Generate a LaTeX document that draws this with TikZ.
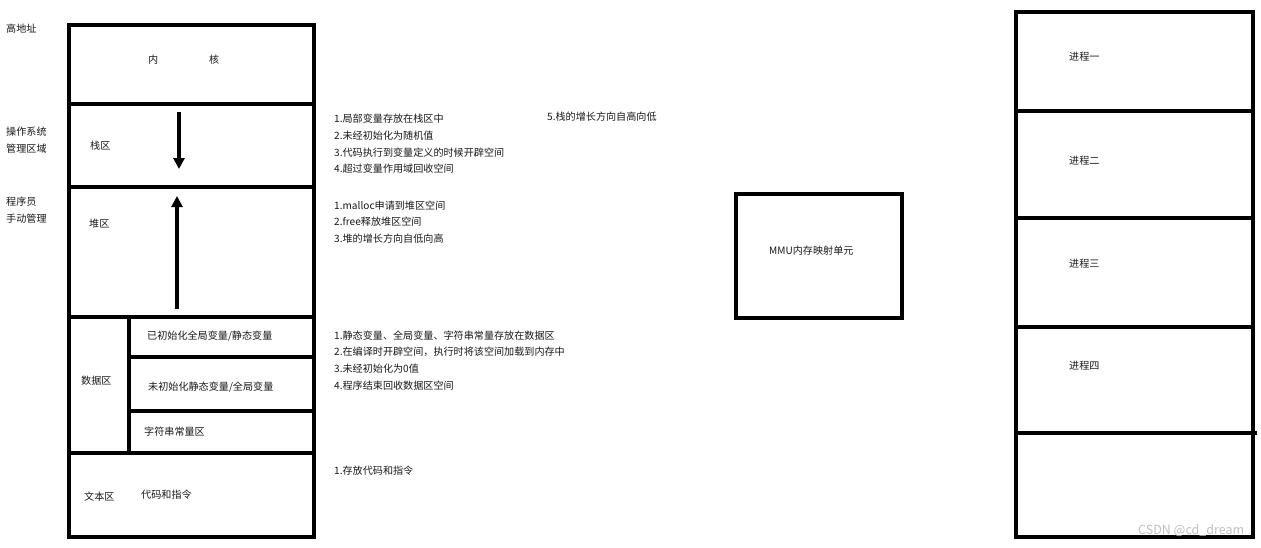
\documentclass[tikz,border=0pt]{standalone}
\usepackage{fontspec}
\setmainfont{Noto Sans CJK SC}
\usetikzlibrary{arrows.meta}
\tikzset{
  wall/.style={line width=3.2pt, line cap=rect},
  lbl/.style={anchor=west, inner sep=0pt, font=\fontsize{10.1}{12}\selectfont, text=black!90},
  growarrow/.style={line width=3.2pt, -{Triangle[width=11pt,length=11pt]}},
}
\begin{document}
\begin{tikzpicture}[x=1pt,y=-1pt]
\useasboundingbox[fill=white] (0,0) rectangle (1261,547);
% left memory layout
\draw[wall] (69,25) rectangle (314,537);
\foreach \yy in {104,187,317,453} \draw[wall] (69,\yy) -- (314,\yy);
\draw[wall] (129,317) -- (129,453);
\foreach \yy in {357,411} \draw[wall] (129,\yy) -- (314,\yy);
% arrows
\coordinate (sa) at (179,112); \coordinate (sb) at (179,169);
\coordinate (ha) at (177,309); \coordinate (hb) at (177,196);
\draw[growarrow] (sa) -- (sb);
\draw[growarrow] (ha) -- (hb);
% left labels
\node[lbl] (gaddr) at (6,29) {高地址};
\node[lbl] (os1) at (6,132) {操作系统};
\node[lbl] (os2) at (6,149) {管理区域};
\node[lbl] (pg1) at (6,202) {程序员};
\node[lbl] (pg2) at (6,219) {手动管理};
\node[lbl] (k1) at (148,60) {内};
\node[lbl] (k2) at (209,60) {核};
\node[lbl] (stack) at (90,146) {栈区};
\node[lbl] (heap) at (89,224) {堆区};
\node[lbl] (data) at (81,381) {数据区};
\node[lbl] (d1) at (147,336) {已初始化全局变量/静态变量};
\node[lbl] (d2) at (148,387) {未初始化静态变量/全局变量};
\node[lbl] (d3) at (144,432) {字符串常量区};
\node[lbl] (text) at (84,497) {文本区};
\node[lbl] (code) at (141,495) {代码和指令};
% notes
\node[lbl] (n1) at (334,119) {1.局部变量存放在栈区中};
\node[lbl] (n2) at (334,136) {2.未经初始化为随机值};
\node[lbl] (n3) at (334,153) {3.代码执行到变量定义的时候开辟空间};
\node[lbl] (n4) at (334,169) {4.超过变量作用域回收空间};
\node[lbl] (n5) at (547,117) {5.栈的增长方向自高向低};
\node[lbl] (h1) at (334,206) {1.malloc申请到堆区空间};
\node[lbl] (h2) at (334,222) {2.free释放堆区空间};
\node[lbl] (h3) at (334,239) {3.堆的增长方向自低向高};
\node[lbl] (e1) at (334,336) {1.静态变量、全局变量、字符串常量存放在数据区};
\node[lbl] (e2) at (334,352) {2.在编译时开辟空间，执行时将该空间加载到内存中};
\node[lbl] (e3) at (334,369) {3.未经初始化为0值};
\node[lbl] (e4) at (334,386) {4.程序结束回收数据区空间};
\node[lbl] (t1) at (334,471) {1.存放代码和指令};
% MMU
\draw[wall] (736,194) rectangle (902,318);
\node[lbl] (mmu) at (769,251) {MMU内存映射单元};
% processes
\draw[wall] (1016,12) rectangle (1253,537);
\foreach \yy in {111,218,327} \draw[wall] (1016,\yy) -- (1253,\yy);
\draw[wall] (1019,433) -- (1255,433);
\node[lbl] (p1) at (1069,57) {进程一};
\node[lbl] (p2) at (1069,161) {进程二};
\node[lbl] (p3) at (1069,264) {进程三};
\node[lbl] (p4) at (1069,366) {进程四};
\node[lbl, text=black!25, font=\fontsize{12.5}{14}\selectfont] (wm) at (1138,531) {CSDN @cd\_dream};
\end{tikzpicture}
\end{document}
